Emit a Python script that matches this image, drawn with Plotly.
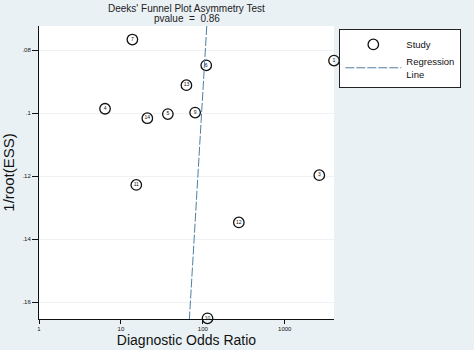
import plotly.graph_objects as go

# Study data
study_labels = ["1", "2", "3", "4", "5", "6", "7", "9", "10", "11", "12", "13", "14"]
dor = [3990, 313, 2640, 6.4, 37.4, 110, 13.8, 80.5, 114, 15.4, 275, 63, 21]
inv_root_ess = [0.0833, 0.0722, 0.1197, 0.0986, 0.1003, 0.0848, 0.0766,
                0.0998, 0.1652, 0.1228, 0.1347, 0.0911, 0.1016]

# Regression line endpoints
reg_dor = [111.7, 68.5]
reg_y = [0.0723, 0.1654]

x_tickvals = [1, 10, 100, 1000]
x_ticktext = ["1", "10", "100", "1000"]
y_tickvals = [0.08, 0.10, 0.12, 0.14, 0.16]
y_ticktext = [".08", ".1", ".12", ".14", ".16"]

title_line1 = "Deeks' Funnel Plot Asymmetry Test"
title_line2 = "pvalue  =  0.86"

FONT = "Liberation Sans, Arial, Helvetica, sans-serif"

fig = go.Figure()
fig.add_trace(go.Scatter(
    x=dor, y=inv_root_ess, mode="markers+text", text=study_labels,
    textposition="middle center", textfont=dict(size=5, color="#111", family=FONT),
    marker=dict(symbol="circle-open", size=10.5, color="#111", line=dict(width=1.3, color="#111")),
    name="Study", cliponaxis=False,
))
fig.add_trace(go.Scatter(
    x=reg_dor, y=reg_y, mode="lines",
    line=dict(color="#4f7fa3", width=1, dash="9px,2px"),
    name="Regression<br>Line", cliponaxis=False,
))

fig.add_annotation(text=title_line1, xref="paper", yref="paper", x=0.5, y=1.0,
                   yshift=18, xanchor="center", yanchor="middle", showarrow=False,
                   font=dict(size=10, color="#222"))
fig.add_annotation(text=title_line2, xref="paper", yref="paper", x=0.5, y=1.0,
                   yshift=8, xanchor="center", yanchor="middle", showarrow=False,
                   font=dict(size=10, color="#222"))

fig.update_layout(
    width=474, height=350,
    margin=dict(l=39, r=140, t=26, b=31, autoexpand=False),
    paper_bgcolor="#eaf1f5", plot_bgcolor="white",
    font=dict(family=FONT, color="#111"),
    xaxis=dict(type="log", range=[0, 3.601], tickvals=x_tickvals, ticktext=x_ticktext,
               showgrid=False, zeroline=False, showline=True, linecolor="#111", linewidth=1,
               ticks="outside", ticklen=4, tickcolor="#111", tickfont=dict(size=6),
               title=dict(text="Diagnostic Odds Ratio", font=dict(size=14), standoff=2)),
    yaxis=dict(range=[0.1654, 0.0723], tickvals=y_tickvals, ticktext=y_ticktext,
               showgrid=True, gridcolor="#eef2f4", gridwidth=1, zeroline=False,
               showline=True, linecolor="#111", linewidth=1,
               ticks="outside", ticklen=6, tickcolor="#111", tickfont=dict(size=6),
               title=dict(text="1/root(ESS)", font=dict(size=15), standoff=4)),
    legend=dict(x=1.018, y=0.99, xanchor="left", yanchor="top",
                bgcolor="white", bordercolor="#222", borderwidth=1,
                font=dict(size=9.5), itemwidth=56, tracegroupgap=0),
    showlegend=True,
)

fig.write_html("out.html")
